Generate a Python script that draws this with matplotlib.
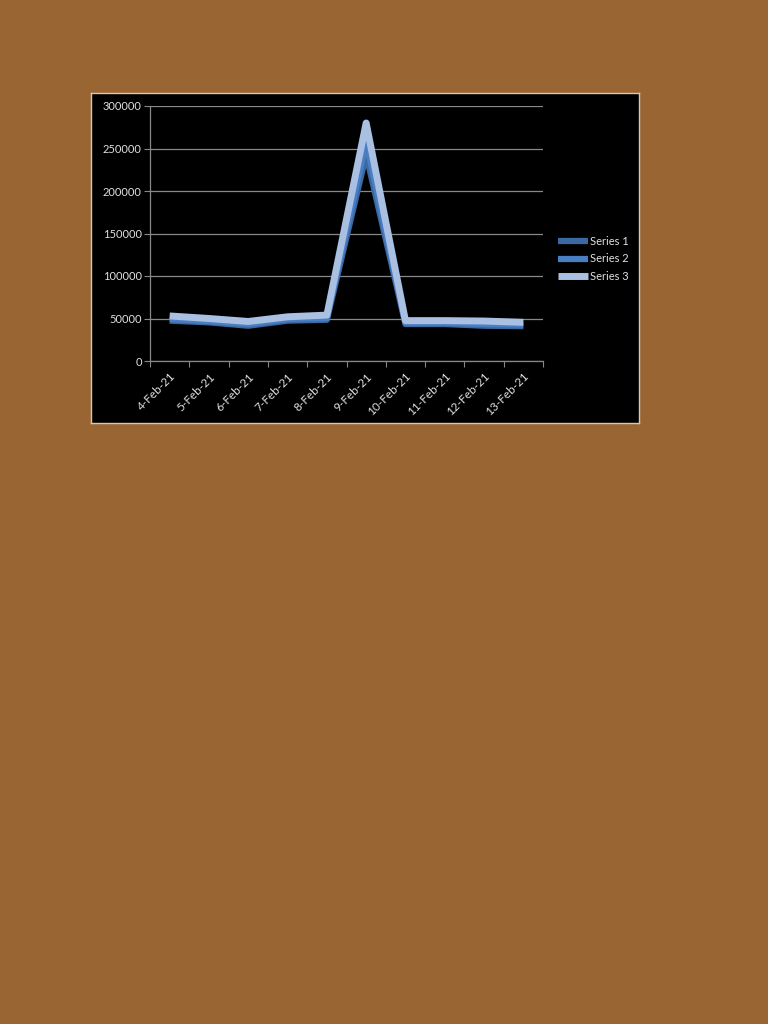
import numpy as np
import matplotlib
matplotlib.use('Agg')
import matplotlib.pyplot as plt

# Values.
dates = ['4-Feb-21', '5-Feb-21', '6-Feb-21', '7-Feb-21', '8-Feb-21',
         '9-Feb-21', '10-Feb-21', '11-Feb-21', '12-Feb-21', '13-Feb-21']
series_1 = [47500, 45500, 41500, 47500, 48500, 243000, 43500, 43500, 41500, 41000]
series_2 = [49500, 47000, 43500, 49500, 50500, 258000, 45000, 45000, 43500, 43000]
series_3 = [53000, 50000, 46500, 52000, 54000, 280000, 47500, 47500, 47000, 45500]
series_names = ['Series 1', 'Series 2', 'Series 3']
yticks = [0, 50000, 100000, 150000, 200000, 250000, 300000]

colors = ['#3b68a3', '#4a7ec2', '#a9c0e3']
widths = [4.5, 4.5, 5.0]

W, H = 768, 1024
fig = plt.figure(figsize=(W / 100, H / 100), dpi=100)
fig.patch.set_facecolor('#996633')

# black chart panel with light border, drawn as a background axes
bg = fig.add_axes([91 / W, 1 - 423 / H, (639 - 91) / W, (423 - 93) / H], zorder=0)
bg.set_facecolor('black')
bg.set_xticks([])
bg.set_yticks([])
for s in bg.spines.values():
    s.set_color('#d8c8b0')
    s.set_linewidth(1.0)

ax = fig.add_axes([150 / W, 1 - 361 / H, (543 - 150) / W, (361 - 106) / H], zorder=1)
ax.set_facecolor('black')

x = np.arange(len(dates))
for vals, c, lw, name in zip([series_1, series_2, series_3], colors, widths, series_names):
    ax.plot(x, vals, color=c, linewidth=lw, label=name, solid_capstyle='butt',
            solid_joinstyle='round')

ax.set_xlim(-0.5, len(dates) - 0.5)
ax.set_ylim(0, 300000)
ax.set_yticks(yticks)
ax.set_yticklabels([str(v) for v in yticks], color='#e0e0e0', fontsize=8,
                   family='Lato')
ax.tick_params(axis='y', length=4, color='#888888', pad=2)
ax.yaxis.grid(True, color='#888888', linewidth=0.9)
ax.set_axisbelow(True)

# category ticks between points, labels at points
ax.set_xticks(np.arange(len(dates) + 1) - 0.5)
ax.set_xticklabels([])
ax.set_xticks(x, minor=True)
ax.set_xticklabels(dates, minor=True, rotation=45, ha='right', va='top',
                   rotation_mode='anchor', color='#e0e0e0', fontsize=8.5, family='Lato')
ax.tick_params(axis='x', which='major', length=4, color='#888888', direction='out')
ax.tick_params(axis='x', which='minor', length=0, pad=7)

for side in ['top', 'right']:
    ax.spines[side].set_visible(False)
for side in ['left', 'bottom']:
    ax.spines[side].set_color('#888888')
    ax.spines[side].set_linewidth(0.9)

leg = ax.legend(loc='center left', bbox_to_anchor=(1.013, 0.4), frameon=False,
                handlelength=2.7, handletextpad=0.2, labelspacing=0.6,
                prop={'family': 'Lato', 'size': 8})
for t in leg.get_texts():
    t.set_color('#e0e0e0')

fig.savefig('out.png', dpi=100, facecolor=fig.get_facecolor())
